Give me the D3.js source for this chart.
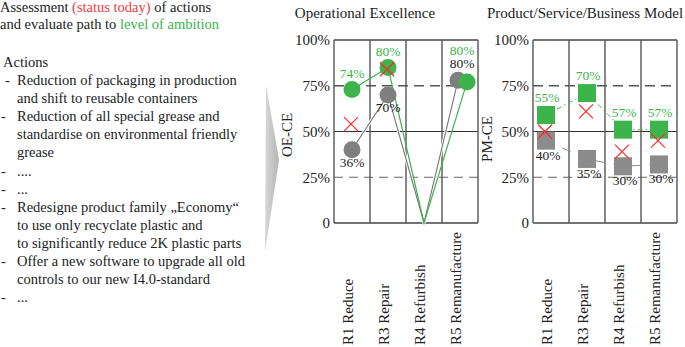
<!DOCTYPE html>
<html><head><meta charset="utf-8">
<script src="https://cdn.jsdelivr.net/npm/d3@7"></script>
<style>
html,body{margin:0;padding:0;background:#fff;}
svg{display:block;}
svg text{font-family:"Liberation Serif","Times New Roman",serif !important;}
</style></head>
<body><svg id="c" width="685" height="347"></svg>
<script>
// ---- data ----
const categories = ["R1 Reduce", "R3 Repair", "R4 Refurbish", "R5 Remanufacture"];
const yTicks = [0, 25, 50, 75, 100];
const yTickLabels = ["0", "25%", "50%", "75%", "100%"];
// Operational Excellence (OE-CE)
const oeStatus = [40, 70, 0, 78];          // grey circles
const oeAmbition = [73, 85, 0, 77];        // green circles
const oeCross = [54, 84, null, null];      // red crosses
const oeStatusLabels = ["36%", "70%", null, "80%"];
const oeAmbitionLabels = ["74%", "80%", null, "80%"];
// Product/Service/Business Model (PM-CE)
const pmStatus = [45, 35, 31, 32];         // grey squares
const pmAmbition = [59, 71, 51, 51];       // green squares
const pmCross = [50, 61, 39, 45];          // red crosses
const pmStatusLabels = ["40%", "35%", "30%", "30%"];
const pmAmbitionLabels = ["55%", "70%", "57%", "57%"];
// text block
const headerLines = [
  [["Assessment ", "#222"], ["(status today)", "#f03c3c"], [" of actions", "#222"]],
  [["and evaluate path to ", "#222"], ["level of ambition", "#3cb44b"]]
];
const actionItems = [
  ["Reduction of packaging in production", "and shift to reusable containers"],
  ["Reduction of all special grease and", "standardise on environmental friendly", "grease"],
  ["...."],
  ["..."],
  ["Redesigne product family \u201EEconomy\u201C", "to use only recyclate plastic and", "to significantly reduce 2K plastic parts"],
  ["Offer a new software to upgrade all old", "controls to our new I4.0-standard"],
  ["..."]
];

const GREEN = "#3cb44b", RED = "#ff2a2a", TXT = "#222";
const svg = d3.select("#c");

// ---- left text ----
const tg = svg.append("g").attr("font-size", 14.5).attr("fill", TXT);
[12, 29].forEach((y, i) => {
  const t = tg.append("text").attr("x", 0).attr("y", y);
  headerLines[i].forEach(([s, c]) => t.append("tspan").attr("fill", c).text(s));
});
tg.append("text").attr("x", 3).attr("y", 67).text("Actions");
let line = 0;
actionItems.forEach((item, k) => {
  item.forEach((s, j) => {
    const y = 85 + line * 18.1;
    if (j === 0) tg.append("text").attr("x", k === 0 ? 5 : 1).attr("y", y).text("-");
    tg.append("text").attr("x", 17).attr("y", y).text(s);
    line++;
  });
});

// ---- arrow ----
const defs = svg.append("defs");
const gr = defs.append("linearGradient").attr("id", "ag").attr("x1", 0).attr("x2", 1).attr("y1", 0).attr("y2", 0);
gr.append("stop").attr("offset", 0).attr("stop-color", "#d8d8d8");
gr.append("stop").attr("offset", 1).attr("stop-color", "#b4b4b4");
svg.append("path").attr("d", "M266,85 L279,160 L265,252 Z").attr("fill", "url(#ag)");

// ---- charts ----
function drawChart(opt) {
  const g = svg.append("g");
  const x = d3.scaleBand().domain(categories).range([opt.x0, opt.x0 + 144]).padding(0);
  const y = d3.scaleLinear().domain([0, 100]).range([223, 40]);
  const cx = c => x(c) + x.bandwidth() / 2;

  g.append("text").attr("x", opt.titleX).attr("y", 18).attr("text-anchor", "middle")
    .attr("font-size", 15).attr("fill", TXT).text(opt.title);

  g.append("line").attr("x1", opt.x0).attr("x2", opt.x0 + 144).attr("y1", y(75)).attr("y2", y(75))
    .attr("stroke", "#555").attr("stroke-width", 1.4).attr("stroke-dasharray", "10,6");
  g.append("line").attr("x1", opt.x0).attr("x2", opt.x0 + 144).attr("y1", y(25)).attr("y2", y(25))
    .attr("stroke", "#666").attr("stroke-width", 1).attr("stroke-dasharray", "9,6");
  g.append("line").attr("x1", opt.x0).attr("x2", opt.x0 + 144).attr("y1", y(50)).attr("y2", y(50))
    .attr("stroke", "#333").attr("stroke-width", 1.1);
  g.append("line").attr("x1", opt.x0).attr("x2", opt.x0 + 144).attr("y1", y(100)).attr("y2", y(100))
    .attr("stroke", "#444").attr("stroke-width", 1.3);
  g.append("line").attr("x1", opt.x0).attr("x2", opt.x0 + 144).attr("y1", y(0)).attr("y2", y(0))
    .attr("stroke", "#444").attr("stroke-width", 1.3);
  categories.forEach(c => {
    g.append("line").attr("x1", x(c)).attr("x2", x(c)).attr("y1", y(100)).attr("y2", y(0))
      .attr("stroke", "#555").attr("stroke-width", 1.4);
  });
  g.append("line").attr("x1", opt.x0 + 144).attr("x2", opt.x0 + 144).attr("y1", y(100)).attr("y2", y(0))
    .attr("stroke", "#555").attr("stroke-width", 1.4);

  const ax = g.append("g").attr("transform", `translate(${opt.x0 - 4},0)`)
    .call(d3.axisLeft(y).tickValues(yTicks).tickSize(0).tickPadding(0)
      .tickFormat((d, i) => yTickLabels[i]));
  ax.select(".domain").remove();
  ax.selectAll("text").attr("font-size", 15).attr("fill", TXT);
  g.append("text").attr("transform", `translate(${opt.yTitleX},${opt.yTitleY}) rotate(-90)`)
    .attr("text-anchor", "middle").attr("font-size", 15).attr("fill", TXT).text(opt.yTitle);

  categories.forEach(c => {
    g.append("text").attr("transform", `translate(${cx(c) + 1},345) rotate(-90)`)
      .attr("font-size", 15).attr("fill", TXT).text(c);
  });
  return { g, x, y, cx };
}

const crossPath = (px, py, s) => `M${px - s},${py - s}L${px + s},${py + s}M${px - s},${py + s}L${px + s},${py - s}`;

// ---- Operational Excellence ----
{
  const { g, x, y, cx } = drawChart({ x0: 334, titleX: 365, title: "Operational Excellence",
    yTitle: "OE-CE", yTitleX: 292, yTitleY: 135 });
  const dodge = i => Math.abs(oeStatus[i] - oeAmbition[i]) < 5 && oeStatus[i] > 0 ? 1 : 0;
  const gx = (i) => cx(categories[i]) - 2 * dodge(i);
  const grx = (i) => cx(categories[i]) + 7 * dodge(i);
  const lineGen = (xf, vals) => d3.line().x((d, i) => xf(i)).y(d => y(d))(vals);
  g.append("path").attr("d", lineGen(gx, oeStatus)).attr("fill", "none")
    .attr("stroke", "#fff").attr("stroke-width", 3);
  g.append("path").attr("d", lineGen(gx, oeStatus)).attr("fill", "none")
    .attr("stroke", "#777").attr("stroke-width", 1.1);
  g.append("path").attr("d", lineGen(grx, oeAmbition)).attr("fill", "none")
    .attr("stroke", GREEN).attr("stroke-width", 1.2);
  oeStatus.forEach((v, i) => { if (v > 0)
    g.append("circle").attr("cx", gx(i)).attr("cy", y(v)).attr("r", 8.5).attr("fill", "#7f7f7f"); });
  oeAmbition.forEach((v, i) => { if (v > 0)
    g.append("circle").attr("cx", grx(i)).attr("cy", y(v)).attr("r", 8.5).attr("fill", GREEN); });
  oeCross.forEach((v, i) => { if (v != null)
    g.append("path").attr("d", crossPath(cx(categories[i]) - 1, y(v), 7)).attr("stroke", RED)
      .attr("stroke-width", 1.2).attr("fill", "none"); });
  oeAmbitionLabels.forEach((s, i) => { if (s)
    g.append("text").attr("x", cx(categories[i]) + (dodge(i) ? 2 : 0))
      .attr("y", y(oeAmbition[i]) - 8.5 - (dodge(i) ? 19 : 3))
      .attr("text-anchor", "middle").attr("font-size", 13.5).attr("fill", GREEN).text(s); });
  oeStatusLabels.forEach((s, i) => { if (s) {
    const below = oeStatus[i] < oeCross[i];
    g.append("text").attr("x", cx(categories[i]) + (dodge(i) ? 2 : 0))
      .attr("y", below ? y(oeStatus[i]) + 8.5 + 9 : y(oeStatus[i]) - 8.5 - (dodge(i) ? 3.5 : 1.5))
      .attr("text-anchor", "middle").attr("font-size", 13.5).attr("fill", TXT).text(s); } });
}

// ---- Product/Service/Business Model ----
{
  const { g, x, y, cx } = drawChart({ x0: 533, titleX: 585, title: "Product/Service/Business Model",
    yTitle: "PM-CE", yTitleX: 492, yTitleY: 139 });
  const px = i => cx(categories[i]) - (i === 0 ? 5 : 0);
  const lineGen = vals => d3.line().x((d, i) => px(i)).y(d => y(d))(vals);
  g.append("path").attr("d", lineGen(pmStatus)).attr("fill", "none")
    .attr("stroke", "#8a8a8a").attr("stroke-width", 1).attr("stroke-dasharray", "9,9");
  g.append("path").attr("d", lineGen(pmAmbition)).attr("fill", "none")
    .attr("stroke", GREEN).attr("stroke-width", 1).attr("stroke-dasharray", "5,3,1.5,3");
  const S = 18;
  pmStatus.forEach((v, i) => g.append("rect").attr("x", px(i) - S / 2).attr("y", y(v) - S / 2)
    .attr("width", S).attr("height", S).attr("fill", "#8c8c8c"));
  pmAmbition.forEach((v, i) => g.append("rect").attr("x", px(i) - S / 2).attr("y", y(v) - S / 2)
    .attr("width", S).attr("height", S).attr("fill", GREEN));
  pmCross.forEach((v, i) => g.append("path").attr("d", crossPath(px(i) - 1, y(v), 7))
    .attr("stroke", RED).attr("stroke-width", 1.2).attr("fill", "none"));
  pmAmbitionLabels.forEach((s, i) => g.append("text").attr("x", px(i) + 1)
    .attr("y", y(pmAmbition[i]) - S / 2 - 4).attr("text-anchor", "middle")
    .attr("font-size", 13.5).attr("fill", GREEN).text(s));
  pmStatusLabels.forEach((s, i) => g.append("text").attr("x", px(i) + 2)
    .attr("y", y(pmStatus[i]) + S / 2 + 10).attr("text-anchor", "middle")
    .attr("font-size", 13.5).attr("fill", TXT).text(s));
}
</script></body></html>
